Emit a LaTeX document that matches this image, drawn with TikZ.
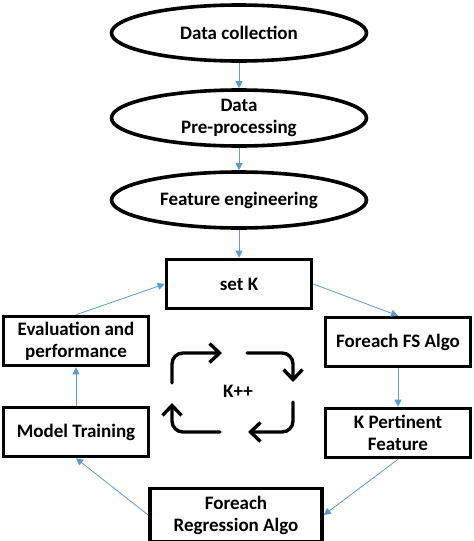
\documentclass[tikz,border=0pt]{standalone}
\usepackage{fontspec}
\setmainfont{Carlito}
\usetikzlibrary{shapes.geometric,arrows.meta}
\definecolor{flowblue}{RGB}{91,155,213}
\tikzset{
  stage/.style={draw,ellipse,line width=3.6pt,minimum width=255pt,minimum height=56pt,inner sep=0pt},
  algobox/.style={draw,rectangle,line width=3.6pt,minimum width=145pt,minimum height=49pt,inner sep=0pt,align=center},
  flow/.style={flowblue,line width=0.8pt,-{Triangle[length=7pt,width=7pt]}},
  cyc/.style={line width=3.4pt,line cap=round,rounded corners=11pt,-{Straight Barb[length=10pt,width=19pt]}}
}
\begin{document}
\begin{tikzpicture}[x=1pt,y=-1pt,font=\bfseries\fontsize{19}{22}\selectfont]
	\useasboundingbox (0,0) rectangle (474,541);
	% pipeline
	\node[stage] (collect) at (239,33) {Data collection};
	\node[stage,align=center] (prep) at (239,118) {Data\\Pre-processing};
	\node[stage] (feat) at (239,200) {Feature engineering};
	% loop
	\node[algobox] (setk) at (239,284) {set K};
	\node[algobox] (fsalgo) at (398,342) {Foreach FS Algo};
	\node[algobox] (pertinent) at (398,433) {K Pertinent\\Feature};
	\node[algobox,minimum width=172pt,minimum height=53pt] (regress) at (236,515) {Foreach\\Regression Algo};
	\node[algobox] (model) at (76,432) {Model Training};
	\node[algobox] (eval) at (76,341) {Evaluation and\\performance};
	\node (kpp) at (238,391) {K++};
	\draw[flow] (collect) -- (prep);
	\draw[flow] (prep) -- (feat);
	\draw[flow] (feat) -- (setk);
	\draw[flow] (setk.east) -- (fsalgo.north);
	\draw[flow] (fsalgo) -- (pertinent);
	\draw[flow] (pertinent.south) -- (regress.east);
	\draw[flow] (regress.west) -- (model.south);
	\draw[flow] (model) -- (eval);
	\draw[flow] (eval.north) -- (setk.west);
	% cycle sign
	\draw[cyc] (172,383) |- (222,353);
	\draw[cyc] (247,353) -| (293,382);
	\draw[cyc] (293,402) |- (248,432);
	\draw[cyc] (220,432) -| (172,403);
\end{tikzpicture}
\end{document}
